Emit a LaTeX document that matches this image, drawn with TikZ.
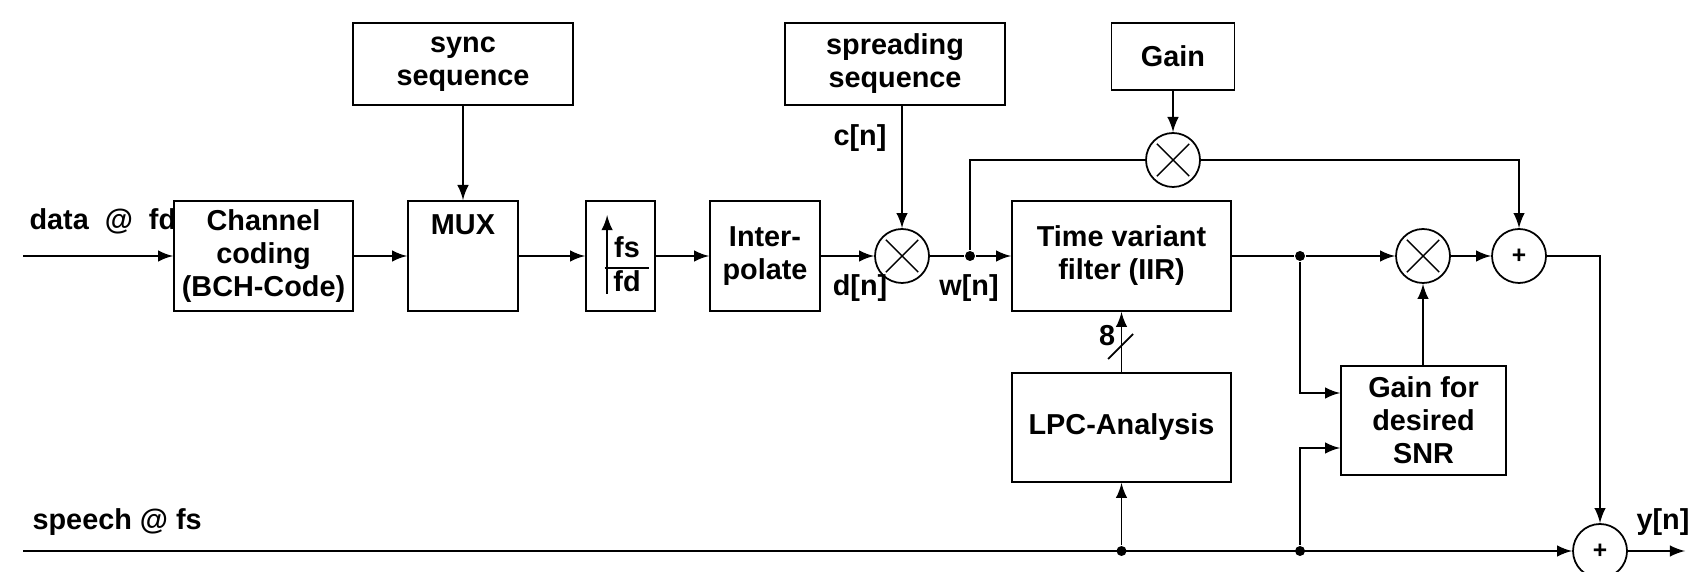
\documentclass[tikz,border=0pt]{standalone}
\usepackage{fontspec}
\setmainfont{Liberation Sans}
\usetikzlibrary{arrows,calc}

\begin{document}
\begin{tikzpicture}[>=latex, line width=0.5pt,
	font=\fontsize{8.2}{9.4}\selectfont\bfseries,
	blk/.style={draw, rectangle, align=center, inner sep=1pt, minimum height=1.1cm},
	mult/.style={draw, circle, minimum size=0.54cm, inner sep=0pt,
		path picture={\draw[line width=0.4pt] ($(path picture bounding box.south west)!0.2!(path picture bounding box.north east)$) -- ($(path picture bounding box.south west)!0.8!(path picture bounding box.north east)$)
		($(path picture bounding box.north west)!0.2!(path picture bounding box.south east)$) -- ($(path picture bounding box.north west)!0.8!(path picture bounding box.south east)$);}},
	summ/.style={draw, circle, minimum size=0.54cm, inner sep=0pt, font=\fontsize{7}{7}\selectfont\bfseries},
	dot/.style={fill, circle, inner sep=0pt, minimum size=0.1cm}]
	\useasboundingbox (0,0) rectangle (16.9,5.72);
	\def\ym{3.16} % main line
	\def\ys{0.21} % speech line
	\def\yt{4.12} % upper line

	% blocks
	\node[blk, minimum width=1.79cm] (chan) at (2.635,\ym) {Channel\\coding\\(BCH-Code)};
	\node[blk, minimum width=2.2cm, minimum height=0.82cm] (sync) at (4.63,5.08) {sync\\sequence};
	\node[blk, minimum width=1.1cm] (mux) at (4.63,\ym) {MUX\\[3mm]};
	\node[blk, minimum width=0.69cm] (up) at (6.205,\ym) {};
	\node[blk, minimum width=1.1cm] (interp) at (7.65,\ym) {Inter-\\polate};
	\node[blk, minimum width=2.2cm, minimum height=0.82cm] (spread) at (8.95,5.08) {spreading\\sequence};
	\node[blk, minimum width=1.23cm, minimum height=0.67cm] (gain) at (11.73,5.155) {Gain};
	\node[blk, minimum width=2.19cm] (filt) at (11.215,\ym) {Time variant\\filter (IIR)};
	\node[blk, minimum width=2.19cm, minimum height=1.09cm] (lpc) at (11.215,1.445) {LPC-Analysis};
	\node[blk, minimum width=1.65cm, minimum height=1.09cm] (snr) at (14.235,1.515) {Gain for\\desired\\SNR};

	% inside of the up-sampler
	\draw[->] ($(up.south west)+(0.22,0.18)$) -- ($(up.north west)+(0.22,-0.15)$);
	\node (fs) at (6.27,3.25) {fs};
	\node (fd) at (6.27,2.91) {fd};
	\draw ($(fs.south west)+(0.03,0.02)$) -- ($(fs.south east)+(-0.03,0.02)$);

	% operators
	\node[mult] (m1) at (9.02,\ym) {};
	\node[mult] (mg) at (11.73,\yt) {};
	\node[mult] (m2) at (14.23,\ym) {};
	\node[summ] (s1) at (15.19,\ym) {+};
	\node[summ] (s2) at (16.00,\ys) {+};

	% junctions
	\node[dot] (dw) at (9.70,\ym) {};
	\node[dot] (df) at (13.00,\ym) {};
	\node[dot] (dl) at (11.215,\ys) {};
	\node[dot] (ds) at (13.00,\ys) {};

	% free ends
	\coordinate (din) at (0.23,\ym);
	\coordinate (sin) at (0.23,\ys);
	\coordinate (yout) at (16.85,\ys);

	% connections
	\draw[->] (din) -- (chan);
	\draw[->] (chan) -- (mux);
	\draw[->] (sync) -- (mux);
	\draw[->] (mux) -- (up);
	\draw[->] (up) -- (interp);
	\draw[->] (interp) -- (m1);
	\draw[->] (spread.south -| m1) -- (m1);
	\draw (m1) -- (dw);
	\draw[->] (dw) -- (filt);
	\draw (dw) |- (mg);
	\draw[->] (gain.south -| mg) -- (mg);
	\draw[->] (mg) -| (s1);
	\draw (filt) -- (df);
	\draw[->] (df) -- (m2);
	\draw[->] (m2) -- (s1);
	\draw[->] (df) |- ($(snr.west)+(0,0.275)$);
	\draw[->] (ds) |- ($(snr.west)+(0,-0.275)$);
	\draw[->] (snr.north -| m2) -- (m2);
	\draw[->] (s1) -| (s2);
	\draw[->] (sin) -- (s2);
	\draw[->] (dl) -- (lpc);
	\draw[->] (lpc) -- (filt);
	\draw[->] (s2) -- (yout);

	% bus width
	\draw (11.08,2.13) -- (11.33,2.38);
	\node (bw) at (11.07,2.36) {8};

	% labels
	\node[anchor=west] (ldata) at (0.17,3.51) {data \ @ \ fd};
	\node[anchor=west] (lspeech) at (0.2,0.50) {speech @ fs};
	\node (lc) at (8.60,4.34) {c[n]};
	\node (ld) at (8.60,2.84) {d[n]};
	\node (lw) at (9.69,2.84) {w[n]};
	\node (ly) at (16.63,0.50) {y[n]};
\end{tikzpicture}
\end{document}
